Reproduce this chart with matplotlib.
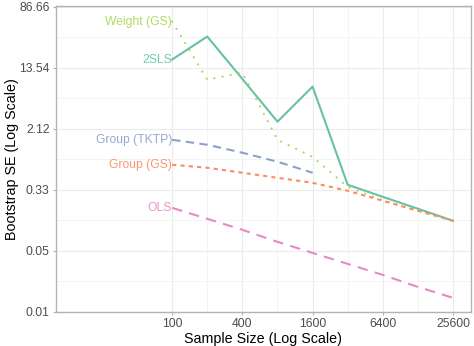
import numpy as np
import matplotlib
matplotlib.use('Agg')
import matplotlib.pyplot as plt

plt.rcParams['font.family'] = ['Liberation Sans', 'DejaVu Sans']

# sample sizes
n = [100, 200, 400, 800, 1600, 3200, 6400, 12800, 25600]

# bootstrap SE
se_2sls = [17.3, 34.8, 9.6, 2.62, 7.6, 0.385, 0.267, 0.186, 0.129]
se_weight = [54.9, 9.4, 11.6, 1.51, 0.90, 0.36, 0.24, 0.175, 0.129]
se_tktp = [1.51, 1.30, 1.02, 0.776, 0.555]
se_gs = [0.708, 0.646, 0.555, 0.476, 0.409, 0.321, 0.237, 0.175, 0.129]
se_ols = [0.191, 0.137, 0.098, 0.068, 0.0486, 0.0348, 0.0249, 0.0173, 0.0124]

yticks = [86.66, 13.54, 2.12, 0.33, 0.05, 0.01]
ytick_pos = [86.66, 13.54, 2.116, 0.3306, 0.05166, 0.00807]
xticks = [100, 400, 1600, 6400, 25600]
xminor = [200, 800, 3200, 12800]

series = [
    ('2SLS', n, se_2sls, '#66C2A5', dict(linestyle='-')),
    ('Weight (GS)', n, se_weight, '#A6D854', dict(dashes=(0.1, 3.9), dash_capstyle='round')),
    ('Group (TKTP)', n[:5], se_tktp, '#8DA0CB', dict(dashes=(4, 2.6))),
    ('Group (GS)', n, se_gs, '#FC8D62', dict(dashes=(2, 2))),
    ('OLS', n, se_ols, '#E78AC3', dict(dashes=(5, 3.5))),
]

fig = plt.figure(figsize=(4.74, 3.46), dpi=100)
ax = fig.add_axes([56/474, 1-312/346, 415/474, 306/346])
ax.set_xscale('log')
ax.set_yscale('log')

for label, x, y, col, st in series:
    ax.plot(x, y, color=col, lw=1.5, zorder=3, **st)
    ax.text(x[0], y[0], label, color=col, fontsize=8.7, ha='right', va='center', alpha=0.9)

ax.set_xlim(10.1, 36500)
ax.set_ylim(0.00807, 88)

ax.set_xticks(xticks)
ax.set_xticklabels([str(v) for v in xticks])
ax.set_xticks(xminor, minor=True)
ax.set_yticks(ytick_pos)
ax.set_yticklabels(['%.2f' % v for v in yticks])
ymin_pos = [np.sqrt(ytick_pos[i]*ytick_pos[i+1]) for i in range(len(ytick_pos)-1)]
ax.set_yticks(ymin_pos, minor=True)
ax.yaxis.set_minor_formatter(matplotlib.ticker.NullFormatter())
ax.xaxis.set_minor_formatter(matplotlib.ticker.NullFormatter())

ax.grid(which='major', color='#EBEBEB', lw=0.8)
ax.grid(which='minor', color='#F3F3F3', lw=0.6)
ax.set_axisbelow(True)
ax.tick_params(which='major', length=2.5, width=0.8, color='#B3B3B3',
               labelsize=8.7, labelcolor='#4D4D4D', pad=2)
ax.tick_params(which='minor', length=0)
for s in ax.spines.values():
    s.set_color('#B3B3B3')
    s.set_linewidth(1.0)

ax.set_xlabel('Sample Size (Log Scale)', fontsize=10.3, color='black', labelpad=1)
ax.set_ylabel('Bootstrap SE (Log Scale)', fontsize=10.3, color='black', labelpad=0.5)

fig.savefig('out.png', dpi=100)
